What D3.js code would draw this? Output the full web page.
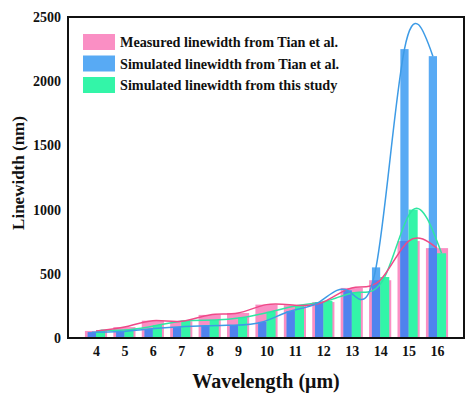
<!DOCTYPE html>
<html>
<head>
<meta charset="utf-8">
<script src="https://cdn.jsdelivr.net/npm/d3@7"></script>
<style>
  body { margin: 0; background: #fff; }
  svg text { font-family: "Liberation Serif", "Times New Roman", serif; font-weight: bold; fill: #111; }
</style>
</head>
<body>
<div id="chart"></div>
<script>
const wavelengths = [4, 5, 6, 7, 8, 9, 10, 11, 12, 13, 14, 15, 16];
const measuredTian = [55, 85, 135, 130, 180, 195, 260, 255, 280, 390, 450, 755, 700];
const simulatedTian = [45, 50, 70, 85, 95, 100, 125, 210, 280, 370, 550, 2250, 2195];
const simulatedThis = [60, 65, 100, 135, 140, 160, 205, 255, 290, 355, 475, 1000, 660];
const yTicks = [0, 500, 1000, 1500, 2000, 2500];
const legendLabels = ["Measured linewidth from Tian et al.", "Simulated linewidth from Tian et al.", "Simulated linewidth from this study"];

const width = 474, height = 395;
const frame = {left: 68, top: 17, right: 464, bottom: 338};

const colors = {pink: "#fa8fc4", blue: "#58aaf4", blueDark: "#4f83ee", green: "#33f5a8"};
const lineColors = {pink: "#ef4a88", blue: "#3d9be6", green: "#2fe6a2"};

const svg = d3.select("#chart").append("svg")
    .attr("width", width)
    .attr("height", height);

const x = d3.scalePoint().domain(wavelengths).range([96, 437]);
const step = x.step();
const y = d3.scaleLinear().domain([0, 2500]).range([frame.bottom, frame.top]);

// bar geometry as fractions of the category step
const pinkOff = -0.39 * step, pinkW = 0.78 * step;
const blueOff = -0.29 * step, blueW = 0.29 * step;
const greenOff = 0, greenW = 0.32 * step;

const g = svg.append("g");

g.selectAll(".bar-pink")
    .data(wavelengths)
    .enter().append("rect")
    .attr("class", "bar-pink")
    .attr("fill", colors.pink)
    .attr("x", (d) => x(d) + pinkOff)
    .attr("width", pinkW)
    .attr("y", (d, i) => y(measuredTian[i]))
    .attr("height", (d, i) => y(0) - y(measuredTian[i]));

g.selectAll(".bar-blue")
    .data(wavelengths)
    .enter().append("rect")
    .attr("class", "bar-blue")
    .attr("fill", colors.blue)
    .attr("x", (d) => x(d) + blueOff)
    .attr("width", blueW)
    .attr("y", (d, i) => y(simulatedTian[i]))
    .attr("height", (d, i) => y(0) - y(simulatedTian[i]));

// blue part overlapping the pink bar looks darker
g.selectAll(".bar-blue-over")
    .data(wavelengths)
    .enter().append("rect")
    .attr("class", "bar-blue-over")
    .attr("fill", colors.blueDark)
    .attr("x", (d) => x(d) + blueOff)
    .attr("width", blueW)
    .attr("y", (d, i) => y(Math.min(simulatedTian[i], measuredTian[i])))
    .attr("height", (d, i) => y(0) - y(Math.min(simulatedTian[i], measuredTian[i])));

g.selectAll(".bar-green")
    .data(wavelengths)
    .enter().append("rect")
    .attr("class", "bar-green")
    .attr("fill", colors.green)
    .attr("x", (d) => x(d) + greenOff)
    .attr("width", greenW)
    .attr("y", (d, i) => y(simulatedThis[i]))
    .attr("height", (d, i) => y(0) - y(simulatedThis[i]));

// smooth curves through bar tops
const curves = [
    {vals: simulatedThis, off: greenOff + greenW / 2, color: lineColors.green},
    {vals: measuredTian, off: 0, color: lineColors.pink},
    {vals: simulatedTian, off: blueOff + blueW / 2, color: lineColors.blue}
];
curves.forEach((c) => {
    const line = d3.line()
        .x((d, i) => x(wavelengths[i]) + c.off)
        .y((d) => y(d))
        .curve(d3.curveNatural);
    g.append("path")
        .attr("d", line(c.vals))
        .attr("fill", "none")
        .attr("stroke", c.color)
        .attr("stroke-width", 1.5);
});

// frame
svg.append("rect")
    .attr("x", frame.left)
    .attr("y", frame.top)
    .attr("width", frame.right - frame.left)
    .attr("height", frame.bottom - frame.top)
    .attr("fill", "none")
    .attr("stroke", "#111")
    .attr("stroke-width", 2);

// axes
const yAxis = svg.append("g")
    .attr("transform", `translate(${frame.left},0)`)
    .call(d3.axisLeft(y).tickValues(yTicks).tickFormat(d3.format("d")).tickSize(0).tickPadding(7));
yAxis.select(".domain").remove();
yAxis.selectAll("text").attr("font-size", 14).attr("font-family", null).attr("fill", "#111");

const xAxis = svg.append("g")
    .attr("transform", `translate(0,${frame.bottom})`)
    .call(d3.axisBottom(x).tickSize(0).tickPadding(8));
xAxis.select(".domain").remove();
xAxis.selectAll("text").attr("font-size", 14).attr("font-family", null).attr("fill", "#111");

svg.append("text")
    .attr("transform", `translate(24,173) rotate(-90)`)
    .attr("text-anchor", "middle")
    .attr("font-size", 17)
    .text("Linewidth (nm)");

svg.append("text")
    .attr("x", 266)
    .attr("y", 388)
    .attr("text-anchor", "middle")
    .attr("font-size", 20)
    .text("Wavelength (\u03bcm)");

// legend
const legendColors = [colors.pink, colors.blue, colors.green];
const legend = svg.append("g").attr("transform", "translate(83,34)");
legendLabels.forEach((label, i) => {
    const row = legend.append("g").attr("transform", `translate(0,${i * 21.5})`);
    row.append("rect")
        .attr("width", 32)
        .attr("height", 16)
        .attr("fill", legendColors[i]);
    row.append("text")
        .attr("x", 37)
        .attr("y", 13)
        .attr("font-size", 14.2)
        .text(label);
});
</script>
</body>
</html>
